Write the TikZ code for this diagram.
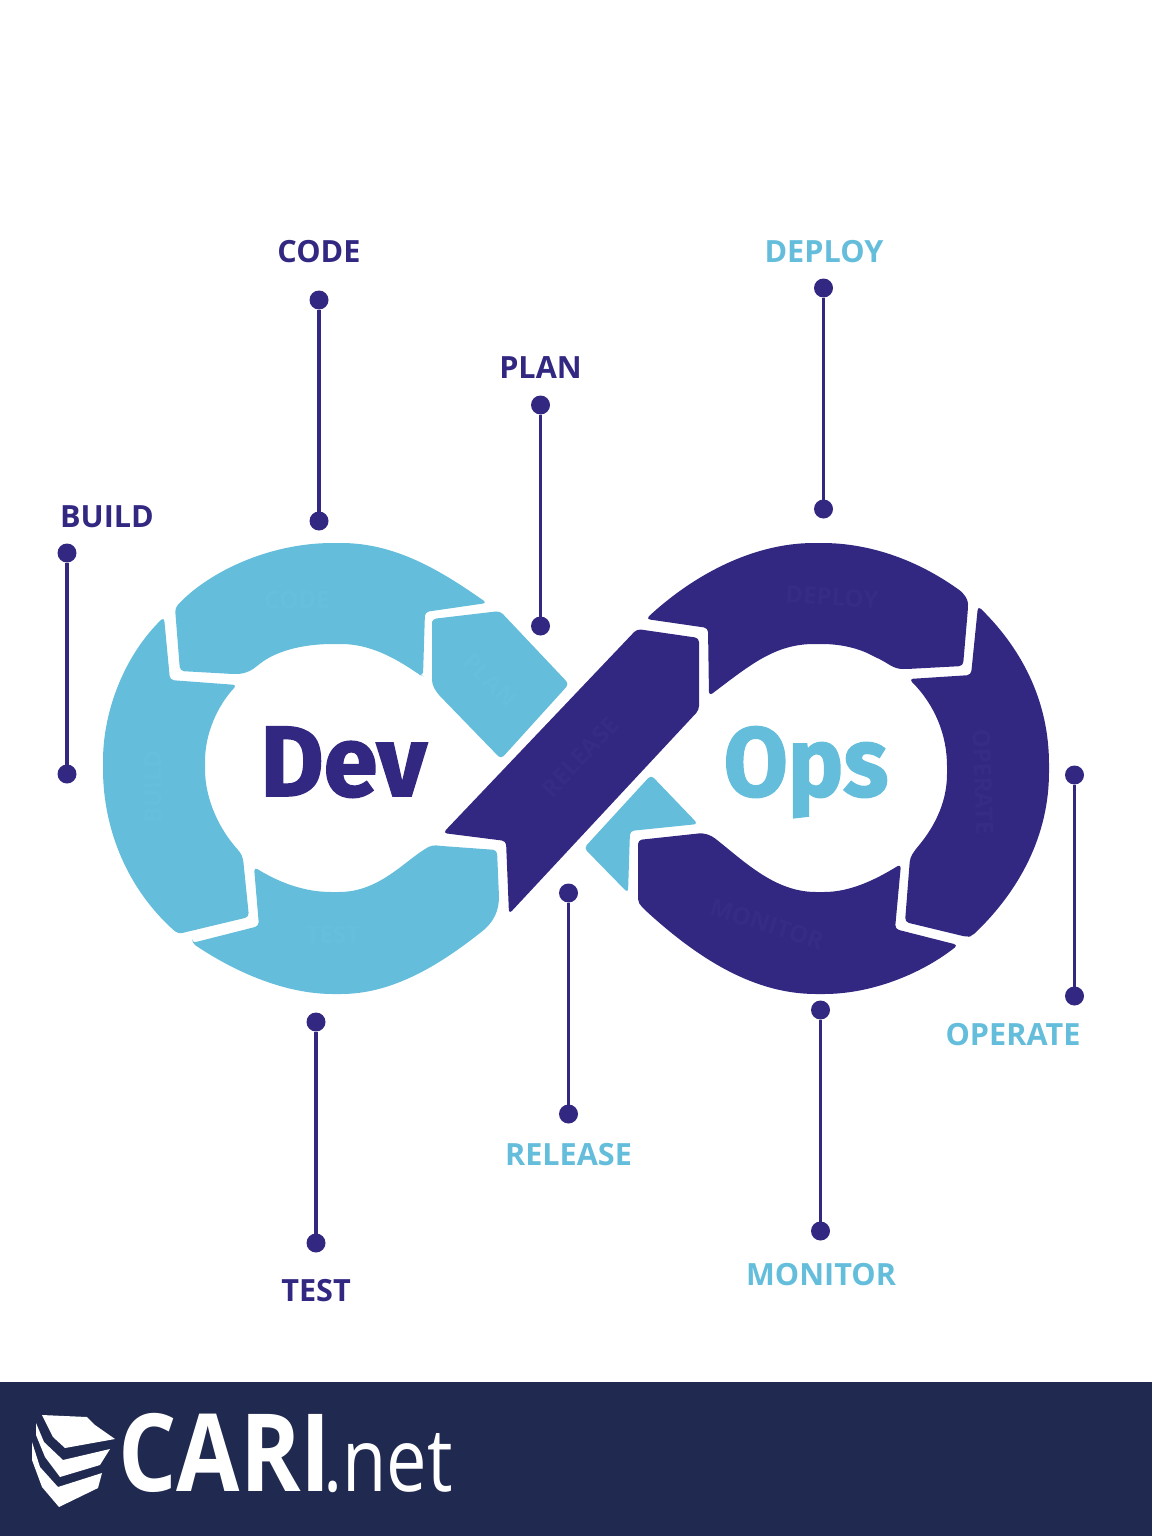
\documentclass[tikz,border=0pt]{standalone}
\usepackage{fontspec}
\setmainfont{Open Sans}
\newfontfamily\devfont[FakeBold=1.6]{Fira Sans Bold}
\newfontfamily\logofont{Open Sans}
\definecolor{ink}{RGB}{50,40,130}
\definecolor{sky}{RGB}{100,189,219}
\definecolor{navy}{RGB}{32,41,79}
\definecolor{inkghost}{RGB}{54,44,134}
\definecolor{skyghost}{RGB}{102,191,220}
\tikzset{
  inkshape/.style={fill=ink,rounded corners=2pt},
  skyshape/.style={fill=sky,rounded corners=2pt},
  pindot/.style={circle,fill=ink,inner sep=0pt,outer sep=0pt,minimum size=9.5pt},
  pinline/.style={draw=ink,line width=1.6pt},
  lab/.style={font=\fontsize{15.3}{17}\selectfont\bfseries,inner sep=0pt},
  ghostlab/.style={font=\fontsize{12}{13}\selectfont\bfseries,inner sep=0pt},
}
\begin{document}
\begin{tikzpicture}[x=0.5pt,y=-0.5pt]
\useasboundingbox (0,0) rectangle (1152,1536);
% banner
\fill[navy] (0,1382) rectangle (1152,1536);
% Dev ring
\path[skyshape] (175,608) .. controls (205,575) and (265,543) .. (337,543) .. controls (395,543) and (440,570) .. (487,603) -- (425,612) -- (423,676) -- (420,675) .. controls (395,658) and (370,644) .. (337,644) .. controls (300,644) and (275,652) .. (257,666) .. controls (248,673) and (240,674) .. (233,674) -- (180,671) -- cycle;
\path[skyshape] (164,617) .. controls (125,655) and (103,710) .. (103,765) .. controls (103,830) and (128,890) .. (178,934) -- (249,917) -- (243,858) -- (240,852) .. controls (220,830) and (205,800) .. (205,765) .. controls (205,733) and (218,705) .. (237,685) -- (170,680) -- cycle;
\path[skyshape] (192,943) -- (259,926) -- (254,867) .. controls (280,883) and (305,892) .. (335,892) .. controls (380,892) and (405,860) .. (432,845) -- (442,846) -- (497,850) -- (499,897) .. controls (498,915) and (490,925) .. (480,933) .. controls (435,968) and (390,994) .. (337,994) .. controls (285,994) and (235,972) .. (192,943) -- cycle;
\path[skyshape] (432,625) -- (432,619) -- (500,611) -- (569,684) -- (501,759) -- (437,693) -- (432,684) -- cycle;
% ribbon
\path[inkshape] (443,833) -- (637,629) -- (699,638) -- (699,710) -- (509,914) -- (506,841) -- cycle;
% small head
\path[skyshape] (584,848) -- (651,775) -- (698,824) -- (630,831) -- (628,893) -- cycle;
% Ops ring
\path[inkshape] (646,619) .. controls (690,578) and (750,543) .. (818,543) .. controls (870,543) and (915,560) .. (955,587) .. controls (965,594) and (968,600) .. (968,608) -- (963,666) -- (907,669) .. controls (893,669) and (888,663) .. (875,657) .. controls (858,648) and (840,644) .. (818,644) .. controls (775,644) and (750,665) .. (709,696) -- (708,628) -- cycle;
\path[inkshape] (978,606) .. controls (1025,652) and (1049,705) .. (1049,768) .. controls (1049,835) and (1020,890) .. (972,936) -- (967,937) -- (905,922) -- (910,858) -- (915,850) .. controls (932,830) and (947,805) .. (947,770) .. controls (947,735) and (935,705) .. (909,679) -- (971,675) -- cycle;
\path[inkshape] (638,840) -- (703,833) -- (712,836) .. controls (745,862) and (775,892) .. (820,892) .. controls (850,892) and (875,880) .. (901,864) -- (895,929) -- (958,945) .. controls (920,975) and (870,994) .. (820,994) .. controls (755,994) and (700,960) .. (645,910) .. controls (640,905) and (638,902) .. (638,895) -- cycle;
% embossed words
\node[ghostlab,text=skyghost] at (297,600) {CODE};
\node[ghostlab,text=skyghost,rotate=90] at (153,787) {BUILD};
\node[ghostlab,text=skyghost] at (333,935) {TEST};
\node[ghostlab,text=skyghost,rotate=-45] at (490,680) {PLAN};
\node[ghostlab,text=inkghost,rotate=-4] at (832,597) {DEPLOY};
\node[ghostlab,text=inkghost,rotate=-88] at (983,782) {OPERATE};
\node[ghostlab,text=inkghost,rotate=-18] at (767,924) {MONITOR};
\node[ghostlab,text=inkghost,rotate=47] at (580,757) {RELEASE};
% Dev Ops
\node[text=ink,inner sep=0pt,anchor=base] (dev) at (343.5,796) {\scalebox{.975}[1]{\devfont\fontsize{50}{52}\selectfont Dev}};
\node[text=sky,inner sep=0pt,anchor=base] (ops) at (806,796) {\scalebox{.93}[.98]{\devfont\fontsize{50}{52}\selectfont Ops}};
% pins
\foreach \nm/\xx/\ya/\yb in {code/319/300/521,plan/540.5/405/626,deploy/823.5/288/509,build/67/553/774,test/316/1022/1243,release/568.5/893/1114,monitor/820.5/1010/1231,operate/1074.5/775/996}{
  \node[pindot] (\nm a) at (\xx,\ya) {};
  \node[pindot] (\nm b) at (\xx,\yb) {};
  \draw[pinline] (\nm a) -- (\nm b);
}
\node[lab,text=ink] (lcode) at (319,251.5) {CODE};
\node[lab,text=ink] (lplan) at (540.5,367.5) {PLAN};
\node[lab,text=sky] (ldeploy) at (824,251.5) {DEPLOY};
\node[lab,text=ink] (lbuild) at (107,516.5) {BUILD};
\node[lab,text=ink] (ltest) at (316,1290.5) {TEST};
\node[lab,text=sky] (lrelease) at (568.5,1154.5) {RELEASE};
\node[lab,text=sky] (lmonitor) at (821,1274.5) {MONITOR};
\node[lab,text=sky] (loperate) at (1013,1034.5) {OPERATE};
% logo
\fill[white] (42,1415) -- (87,1417) -- (95,1425) -- (115,1439) -- (65,1448) -- (53,1437) -- cycle;
\fill[white] (36,1423) -- (44,1442) -- (63,1460) -- (110,1449) -- (100,1465) -- (60,1477) -- (45,1457) -- (36,1435) -- cycle;
\fill[white] (32,1442) -- (40,1467) -- (58,1487) -- (102,1473) -- (98,1488) -- (59,1507) -- (42,1487) -- (32,1460) -- cycle;
\node[text=white,inner sep=0pt,anchor=base west] (logoa) at (118,1491) {\scalebox{.85}[1]{\logofont\bfseries\fontsize{54}{56}\selectfont CARI}};
\node[text=white,inner sep=0pt,anchor=base west] (logob) at (323,1491) {\scalebox{.82}[1]{\logofont\fontsize{44}{46}\selectfont .net}};
\end{tikzpicture}
\end{document}
